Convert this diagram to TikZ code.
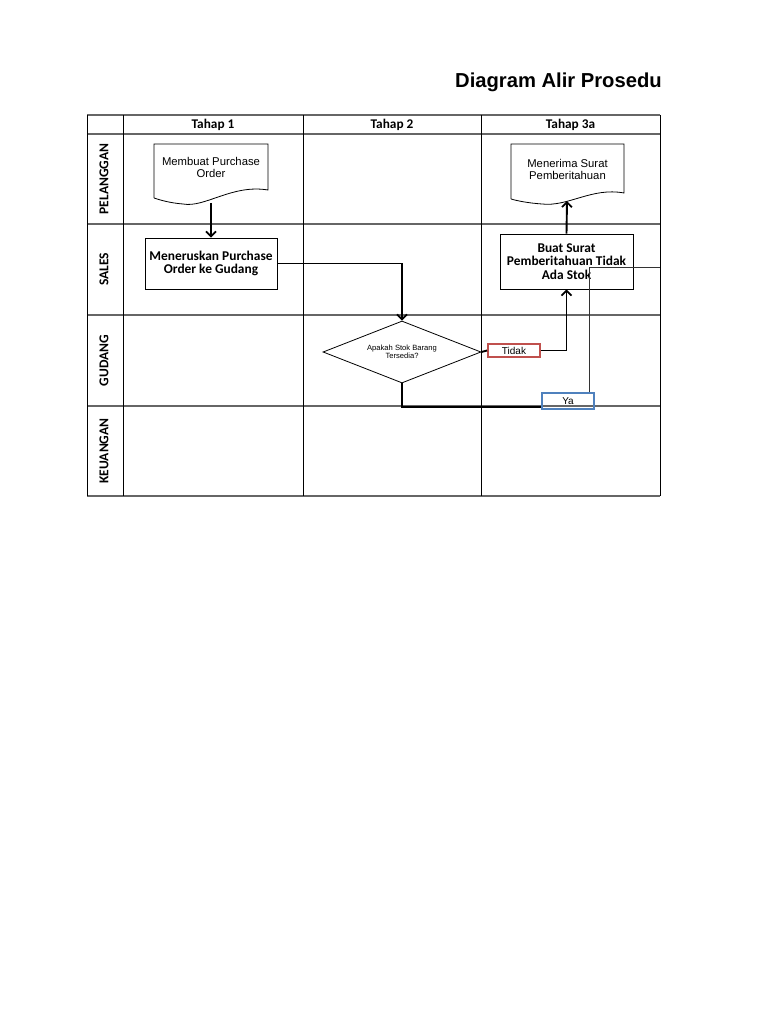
\documentclass[tikz,border=0pt]{standalone}
\usepackage{fontspec}
\setmainfont{Liberation Sans}
\newfontfamily\calfont{Carlito}
\usetikzlibrary{arrows.meta,shapes.geometric}
\definecolor{exred}{RGB}{192,80,77}
\definecolor{exblue}{RGB}{79,129,189}
\begin{document}
\begin{tikzpicture}[x=1pt,y=-1pt,
  hline/.style={draw=black!60,line width=1.2pt},
  vline/.style={draw=black,line width=0.9pt},
  lane/.style={font=\calfont\bfseries\fontsize{13.5}{14}\selectfont,rotate=90,inner sep=0pt},
  head/.style={font=\calfont\bfseries\fontsize{13.3}{14}\selectfont,inner sep=0pt},
  proc/.style={draw=black,line width=0.8pt,align=center,inner sep=0pt,font=\calfont\bfseries\fontsize{13.4}{13.5}\selectfont},
  doctext/.style={align=center,inner sep=0pt,font=\fontsize{11.3}{12}\selectfont},
  docshape/.style={draw=black,line width=0.8pt},
  conn/.style={draw=black,line width=1.9pt},
  arr/.style={conn,-{Straight Barb[length=5pt,width=10pt,line width=1.7pt]}},
  thinconn/.style={draw=black!80,line width=0.7pt},
  label/.style={line width=1.8pt,minimum width=52pt,inner sep=0pt,font=\fontsize{10}{11}\selectfont}
]
\useasboundingbox (0,0) rectangle (768,1024);
\begin{scope}
\clip (0,0) rectangle (660,1024);
\node[anchor=base west,inner sep=0pt,font=\bfseries\fontsize{20.2}{21}\selectfont] (title) at (455,88) {Diagram Alir Prosedur};
\end{scope}

% grid
\foreach \y in {115,134,224,315,406,496} \draw[hline] (87,\y) -- (660,\y);
\foreach \x in {87,123,303,481,660} \draw[vline] (\x,115) -- (\x,496);

% headers
\node[head] (h1) at (213,124.5) {Tahap 1};
\node[head] (h2) at (392,124.5) {Tahap 2};
\node[head] (h3) at (570.5,124.5) {Tahap 3a};

% lanes
\node[lane] (l1) at (104,179) {PELANGGAN};
\node[lane] (l2) at (104,269.5) {SALES};
\node[lane] (l3) at (104,360.5) {GUDANG};
\node[lane] (l4) at (104,451) {KEUANGAN};

% document 1
\draw[docshape] (154,198) -- (154,144) -- (268,144) -- (268,190)
  .. controls (232,184) and (205,208) .. (183,204) .. controls (170,203) and (160,200) .. (154,198);
\node[doctext] (po) at (211,167.5) {Membuat Purchase\\Order};
\coordinate (pob) at (211,203);

% document 2
\draw[docshape] (511,199) -- (511,144) -- (624,144) -- (624,193)
  .. controls (592,187) and (568,207) .. (542,204) .. controls (528,203) and (518,201) .. (511,199);
\node[doctext] (ms) at (567.5,169) {Menerima Surat\\Pemberitahuan};
\coordinate (msb) at (567,201);

% process boxes
\node[proc,minimum width=132pt,minimum height=51pt] (mp) at (211,263.5) {Meneruskan Purchase\\Order ke Gudang};
\node[proc,minimum width=133pt,minimum height=55pt] (bs) at (566.5,261.5) {Buat Surat\\Pemberitahuan Tidak\\Ada Stok};

% decision
\node[diamond,draw=black,line width=0.8pt,aspect=2.55,minimum width=158pt,minimum height=62pt,inner sep=0pt,align=center,font=\fontsize{7.6}{8}\selectfont] (dm) at (402,352) {Apakah Stok Barang\\Tersedia?};

% labels
\node[label,draw=exred,minimum height=13pt] (td) at (514,350.5) {Tidak};
\node[label,draw=exblue,minimum height=16pt] (ya) at (568,401) {Ya};

% connectors
\draw[arr] (pob) -- (mp.north);
\draw[arr] (mp.east) -| (dm.north);
\draw[conn] (dm.east) -- (td.west);
\draw[arr] (td.east) -| (bs.south);
\draw[arr] (bs.north) -- (msb);
\draw[conn] (dm.south) |- ([yshift=3pt]ya.south west);
\coordinate (edge) at (660,267);
\draw[thinconn] ([xshift=21pt]ya.north) |- (edge);
\end{tikzpicture}
\end{document}
